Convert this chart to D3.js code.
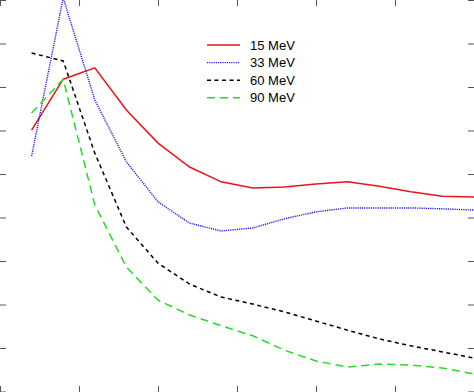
<!DOCTYPE html>
<html lang="en">
<head>
<meta charset="UTF-8">
<title>Energy curves</title>
<style>
  body { margin: 0; padding: 0; background: #fff; }
  svg { display: block; font-family: "Liberation Sans", Arial, sans-serif; }
</style>
</head>
<body>
<svg id="chart" width="474" height="392"></svg>
<script src="https://d3js.org/d3.v7.min.js"></script>
<script>
// x positions of the samples
var xs = [0.4, 0.8, 1.2, 1.6, 2.0, 2.4, 2.8, 3.2, 3.6, 4.0, 4.4, 4.8, 5.2, 5.6, 6.0];

var mev15 = [6.01, 7.18, 7.44, 6.47, 5.71, 5.16, 4.82, 4.68, 4.70, 4.77, 4.82, 4.72, 4.59, 4.49, 4.47];
var mev33 = [5.41, 9.05, 6.70, 5.28, 4.36, 3.87, 3.69, 3.76, 3.97, 4.13, 4.22, 4.22, 4.22, 4.20, 4.17];
var mev60 = [7.78, 7.60, 5.48, 3.78, 2.95, 2.47, 2.17, 2.01, 1.83, 1.62, 1.41, 1.21, 1.05, 0.91, 0.77];
var mev90 = [6.40, 7.18, 4.29, 2.86, 2.10, 1.76, 1.51, 1.28, 0.95, 0.70, 0.56, 0.63, 0.61, 0.54, 0.40];

var seriesNames = ["15 MeV", "33 MeV", "60 MeV", "90 MeV"];
var xTicks = [0, 1, 2, 3, 4, 5, 6];
var yTicks = [0, 1, 2, 3, 4, 5, 6, 7, 8, 9];

var width = 474, height = 392;
var svg = d3.select("#chart");

var x = d3.scaleLinear().domain([0, 6]).range([0, width]);
var y = d3.scaleLinear().domain([0, 9]).range([height - 0.5, 0]);

// inward ticks on all four sides, no frame line
function ticks(g) {
    g.select(".domain").remove();
    g.selectAll(".tick line").attr("stroke", "#555");
    g.selectAll(".tick text").remove();
}
svg.append("g").attr("transform", "translate(0,0)")
    .call(d3.axisLeft(y).tickValues(yTicks).tickSize(-6)).call(ticks);
svg.append("g").attr("transform", "translate(" + width + ",0)")
    .call(d3.axisRight(y).tickValues(yTicks).tickSize(-6)).call(ticks);
svg.append("g").attr("transform", "translate(0," + height + ")")
    .call(d3.axisBottom(x).tickValues(xTicks).tickSize(-6)).call(ticks);
svg.append("g").attr("transform", "translate(0,0)")
    .call(d3.axisTop(x).tickValues(xTicks).tickSize(-6)).call(ticks);

svg.append("clipPath").attr("id", "clip")
    .append("rect").attr("width", width).attr("height", height);

var series = [
    { name: seriesNames[0], values: mev15, color: "#e8141c", dash: null, w: 1.5 },
    { name: seriesNames[1], values: mev33, color: "#1a1ae6", dash: "1.2,1", w: 1.4 },
    { name: seriesNames[2], values: mev60, color: "#000000", dash: "4,3.5", w: 1.5 },
    { name: seriesNames[3], values: mev90, color: "#22dd22", dash: "8,5", w: 1.5 }
];

var line = d3.line()
    .x(function (d, i) { return x(xs[i]); })
    .y(function (d) { return y(d); });

svg.append("g").attr("clip-path", "url(#clip)")
    .selectAll("path")
    .data(series)
    .enter().append("path")
    .attr("d", function (d) { return line(d.values); })
    .attr("fill", "none")
    .attr("stroke", function (d) { return d.color; })
    .attr("stroke-width", function (d) { return d.w; })
    .attr("stroke-dasharray", function (d) { return d.dash; });

// legend
var legend = svg.append("g").attr("transform", "translate(207,45)");
var rows = legend.selectAll("g")
    .data(series)
    .enter().append("g")
    .attr("transform", function (d, i) { return "translate(0," + (i * 17.6) + ")"; });
rows.append("line")
    .attr("x1", 0).attr("x2", 33).attr("y1", 0).attr("y2", 0)
    .attr("stroke", function (d) { return d.color; })
    .attr("stroke-width", function (d) { return d.w; })
    .attr("stroke-dasharray", function (d) { return d.dash; });
rows.append("text")
    .attr("x", 43).attr("y", 4.5)
    .attr("font-size", "13px")
    .attr("fill", "#000")
    .text(function (d) { return d.name; });
</script>
</body>
</html>
